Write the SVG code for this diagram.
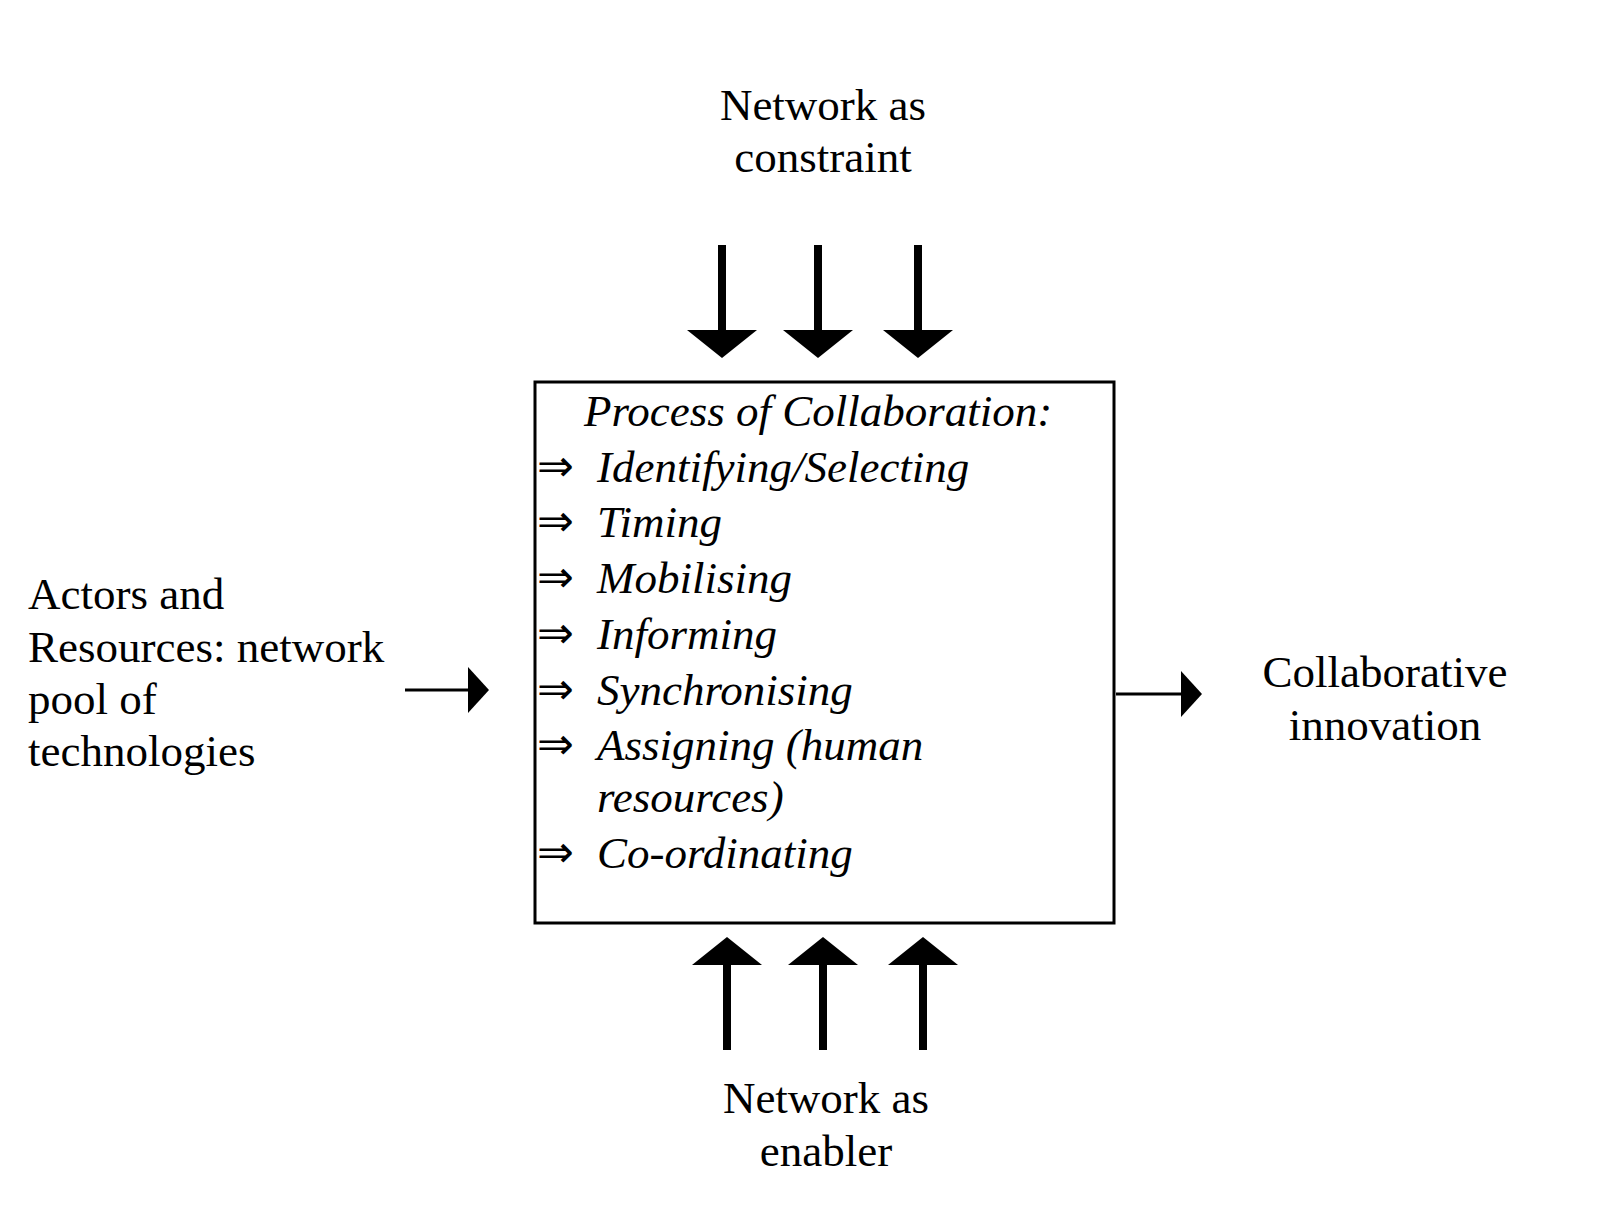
<svg xmlns="http://www.w3.org/2000/svg" xmlns:xlink="http://www.w3.org/1999/xlink" width="1603" height="1216" viewBox="0 0 1603 1216">
<style>
  text { font-family: "Liberation Serif", "Times New Roman", "DejaVu Serif", serif; font-size: 45px; fill: #000; }
  .it { font-style: italic; }
  .sym { font-style: normal; font-family: "DejaVu Sans", "Liberation Sans", sans-serif; font-size: 44px; }
  .mid { text-anchor: middle; }
  .box { fill: #fff; stroke: #000; stroke-width: 3; }
  .shaft { stroke: #000; stroke-width: 8; fill: none; }
  .thin { stroke: #000; stroke-width: 3; fill: none; }
  .head { fill: #000; stroke: none; }
</style>
<defs>
  <path id="headDown" class="head" d="M-35,0 L35,0 L0,28 Z"/>
  <path id="headUp" class="head" d="M-35,0 L35,0 L0,-28 Z"/>
  <path id="headRight" class="head" d="M0,-23 L0,23 L21,0 Z"/>
</defs>
<rect width="1603" height="1216" fill="#fff"/>

<g id="constraint">
  <text class="mid" x="823" y="120">Network as</text>
  <text class="mid" x="823" y="172">constraint</text>
</g>

<g id="process">
  <rect class="box" x="535" y="382" width="579" height="541"/>
  <text class="it" x="584" y="426">Process of Collaboration:</text>
  <text class="sym" x="537" y="481">⇒</text><text class="it" x="597" y="482">Identifying/Selecting</text>
  <text class="sym" x="537" y="536">⇒</text><text class="it" x="597" y="537">Timing</text>
  <text class="sym" x="537" y="592">⇒</text><text class="it" x="597" y="593">Mobilising</text>
  <text class="sym" x="537" y="648">⇒</text><text class="it" x="597" y="649">Informing</text>
  <text class="sym" x="537" y="704">⇒</text><text class="it" x="597" y="705">Synchronising</text>
  <text class="sym" x="537" y="759">⇒</text><text class="it" x="597" y="760">Assigning (human</text>
  <text class="it" x="597" y="812">resources)</text>
  <text class="sym" x="537" y="867">⇒</text><text class="it" x="597" y="868">Co-ordinating</text>
</g>

<g id="actors">
  <text x="28" y="609">Actors and</text>
  <text x="28" y="662">Resources: network</text>
  <text x="28" y="714">pool of</text>
  <text x="28" y="766">technologies</text>
</g>

<g id="outcome">
  <text class="mid" x="1385" y="687">Collaborative</text>
  <text class="mid" x="1385" y="740">innovation</text>
</g>

<g id="enabler">
  <text class="mid" x="826" y="1113">Network as</text>
  <text class="mid" x="826" y="1166">enabler</text>
</g>

<g id="connectors">
  <line class="shaft" x1="722" y1="245" x2="722" y2="331"/>
  <line class="shaft" x1="818" y1="245" x2="818" y2="331"/>
  <line class="shaft" x1="918" y1="245" x2="918" y2="331"/>
  <use xlink:href="#headDown" x="722" y="330"/>
  <use xlink:href="#headDown" x="818" y="330"/>
  <use xlink:href="#headDown" x="918" y="330"/>

  <line class="shaft" x1="727" y1="964" x2="727" y2="1050"/>
  <line class="shaft" x1="823" y1="964" x2="823" y2="1050"/>
  <line class="shaft" x1="923" y1="964" x2="923" y2="1050"/>
  <use xlink:href="#headUp" x="727" y="965"/>
  <use xlink:href="#headUp" x="823" y="965"/>
  <use xlink:href="#headUp" x="923" y="965"/>

  <line class="thin" x1="405" y1="690" x2="469" y2="690"/>
  <use xlink:href="#headRight" x="468" y="690"/>

  <line class="thin" x1="1116" y1="694" x2="1182" y2="694"/>
  <use xlink:href="#headRight" x="1181" y="694"/>
</g>
</svg>
